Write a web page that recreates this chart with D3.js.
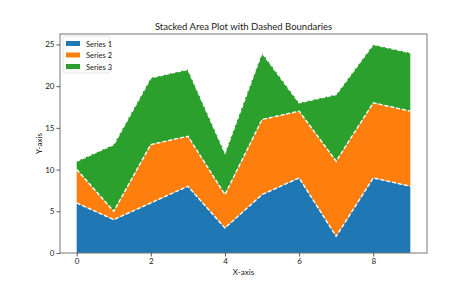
<!DOCTYPE html>
<html>
<head>
<meta charset="utf-8">
<script src="https://cdn.jsdelivr.net/npm/d3@7"></script>
<style>
  body { margin: 0; background: #fff; }
  text { font-family: Lato, "Noto Sans", sans-serif; fill: #222; }
</style>
</head>
<body>
<script>
const xs = [0, 1, 2, 3, 4, 5, 6, 7, 8, 9];
const series1 = [6, 4, 6, 8, 3, 7, 9, 2, 9, 8];
const series2 = [4, 1, 7, 6, 4, 9, 8, 9, 9, 9];
const series3 = [1, 8, 8, 8, 5, 8, 1, 8, 7, 7];
const seriesNames = ["Series 1", "Series 2", "Series 3"];
const colors = ["#1f77b4", "#ff7f0e", "#2ca02c"];
const xTicks = [0, 2, 4, 6, 8];
const yTicks = [0, 5, 10, 15, 20, 25];

const W = 474;
const H = 284;
const margin = { left: 60, right: 47, top: 34, bottom: 31 };

const svg = d3.select("body").append("svg").attr("width", W).attr("height", H);

const x = d3.scaleLinear().domain([-0.45, 9.45]).range([margin.left, W - margin.right]);
const y = d3.scaleLinear().domain([0, 26.25]).range([H - margin.bottom, margin.top]);

const rows = xs.map((v, i) => ({ x: v, s0: series1[i], s1: series2[i], s2: series3[i] }));
const layers = d3.stack().keys(["s0", "s1", "s2"])(rows);

const area = d3.area()
  .x((d) => x(d.data.x))
  .y0((d) => y(d[0]))
  .y1((d) => y(d[1]));

const topLine = d3.line()
  .x((d) => x(d.data.x))
  .y((d) => y(d[1]));

const plot = svg.append("g");

plot.selectAll(".layer")
  .data(layers)
  .enter()
  .append("path")
  .attr("d", area)
  .attr("fill", (d, i) => colors[i]);

plot.selectAll(".edge")
  .data(layers)
  .enter()
  .append("path")
  .attr("d", topLine)
  .attr("fill", "none")
  .attr("stroke", "#fff")
  .attr("stroke-width", 1.4)
  .attr("stroke-dasharray", "4,2");

// frame
svg.append("rect")
  .attr("x", margin.left)
  .attr("y", margin.top)
  .attr("width", W - margin.left - margin.right)
  .attr("height", H - margin.top - margin.bottom)
  .attr("fill", "none")
  .attr("stroke", "#777")
  .attr("stroke-width", 1);

const xAxis = svg.append("g")
  .attr("transform", `translate(0,${H - margin.bottom})`)
  .call(d3.axisBottom(x).tickValues(xTicks).tickSize(3.5).tickPadding(2));
const yAxis = svg.append("g")
  .attr("transform", `translate(${margin.left},0)`)
  .call(d3.axisLeft(y).tickValues(yTicks).tickSize(3.5).tickPadding(2));

[xAxis, yAxis].forEach((a) => {
  a.select(".domain").remove();
  a.selectAll("line").attr("stroke", "#333").attr("stroke-width", 0.8);
  a.selectAll("text").style("font-size", "8px").style("font-family", "Lato, sans-serif").attr("fill", "#222");
});

svg.append("text")
  .attr("x", (margin.left + W - margin.right) / 2)
  .attr("y", 30)
  .attr("text-anchor", "middle")
  .style("font-size", "9.5px")
  .text("Stacked Area Plot with Dashed Boundaries");

svg.append("text")
  .attr("x", (margin.left + W - margin.right) / 2)
  .attr("y", 275)
  .attr("text-anchor", "middle")
  .style("font-size", "8px")
  .text("X-axis");

svg.append("text")
  .attr("transform", `translate(42,${(margin.top + H - margin.bottom) / 2}) rotate(-90)`)
  .attr("text-anchor", "middle")
  .style("font-size", "8px")
  .text("Y-axis");

// legend
const legend = svg.append("g").attr("transform", `translate(${margin.left + 3},${margin.top + 2})`);
legend.append("rect")
  .attr("width", 47)
  .attr("height", 37)
  .attr("rx", 2)
  .attr("fill", "#fff")
  .attr("fill-opacity", 0.8)
  .attr("stroke", "#ddd")
  .attr("stroke-width", 0.8);

const items = legend.selectAll(".item")
  .data(seriesNames)
  .enter()
  .append("g")
  .attr("transform", (d, i) => `translate(3,${5 + i * 11.5})`);

items.append("rect")
  .attr("width", 14)
  .attr("height", 5)
  .attr("fill", (d, i) => colors[i]);

items.append("text")
  .attr("x", 20)
  .attr("y", 5.5)
  .style("font-size", "7.5px")
  .text((d) => d);
</script>
</body>
</html>
